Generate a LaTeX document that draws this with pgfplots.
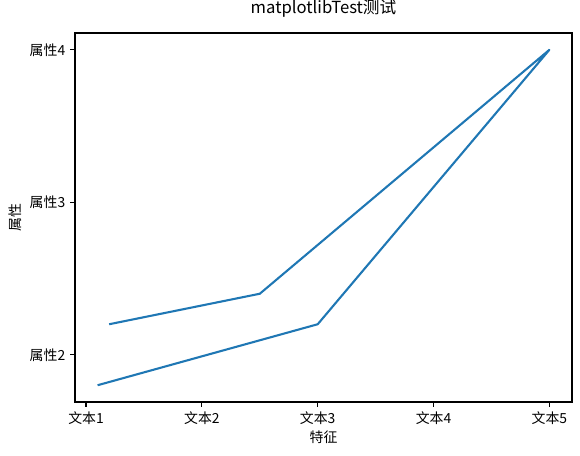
\documentclass[border=0pt]{standalone}
\usepackage{fontspec}
\setmainfont{Noto Sans CJK SC}
\usepackage{pgfplots}
\pgfplotsset{compat=1.18}
\definecolor{mplblue}{HTML}{1F77B4}
\begin{document}
\begin{tikzpicture}[x=1pt,y=1pt]
\useasboundingbox (-54pt,-38.16pt) rectangle (363.6pt,289.44pt);
\begin{axis}[
  at={(0,0)}, anchor=south west,
  scale only axis,
  width=357.84pt, height=265.68pt,
  xmin=0.905, xmax=5.195,
  ymin=1.69, ymax=4.11,
  xtick={1,2,3,4,5},
  xticklabels={文本1,文本2,文本3,文本4,文本5},
  ytick={2,3,4},
  yticklabels={属性2,属性3,属性4},
  tick align=outside,
  xtick pos=bottom, ytick pos=left,
  major tick length=3.5pt,
  every tick/.style={black, line width=0.8pt},
  axis line style={line width=0.8pt},
  tick label style={font=\fontsize{10}{12}\selectfont},
  title={matplotlibTest测试},
  title style={font=\fontsize{12}{14}\selectfont, at={(axis description cs:0.5,1.0434)}, anchor=center},
  xlabel={特征},
  ylabel={属性},
  label style={font=\fontsize{10}{12}\selectfont},
  xlabel style={at={(axis description cs:0.5,-0.095)}, anchor=center},
  ylabel style={at={(axis description cs:-0.12,0.5)}, anchor=center},
]
\addplot[mplblue, line width=1.5pt, line join=round] coordinates {
  (1.1,1.8) (3,2.2) (5,4) (2.5,2.4) (1.2,2.2)
};
\end{axis}
\end{tikzpicture}
\end{document}
